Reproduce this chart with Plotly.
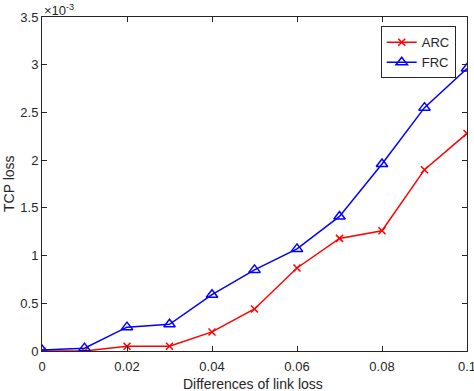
import plotly.graph_objects as go

x_vals = [0, 0.01, 0.02, 0.03, 0.04, 0.05, 0.06, 0.07, 0.08, 0.09, 0.1]
arc = [0.0, 0.0, 0.05, 0.05, 0.20, 0.44, 0.87, 1.18, 1.26, 1.90, 2.28]  # x1e-3
frc = [0.01, 0.03, 0.25, 0.28, 0.59, 0.85, 1.07, 1.41, 1.96, 2.55, 2.96]  # x1e-3
x_ticks = [0, 0.02, 0.04, 0.06, 0.08, 0.1]
x_ticktext = ["0", "0.02", "0.04", "0.06", "0.08", "0.1"]
y_ticks = [0, 0.5, 1, 1.5, 2, 2.5, 3, 3.5]
y_ticktext = ["0", "0.5", "1", "1.5", "2", "2.5", "3", "3.5"]

font = "Liberation Sans, Arial, Helvetica, sans-serif"
axc = "#262626"

fig = go.Figure()
fig.add_trace(go.Scatter(x=x_vals, y=arc, name="ARC", mode="lines+markers",
                         line=dict(color="#ff0000", width=1.5),
                         marker=dict(symbol="x-thin", size=7, color="#ff0000",
                                     line=dict(color="#ff0000", width=1.5))))
fig.add_trace(go.Scatter(x=x_vals, y=frc, name="FRC", mode="lines+markers",
                         line=dict(color="#0000ff", width=1.5),
                         marker=dict(symbol="triangle-up-open", size=10, color="#0000ff",
                                     line=dict(color="#0000ff", width=1.5))))

fig.update_layout(
    width=474, height=391,
    margin=dict(l=42, r=7, t=17, b=40, autoexpand=False),
    paper_bgcolor="white", plot_bgcolor="white",
    font=dict(family=font, size=13, color=axc),
    legend=dict(x=0.797, y=0.972, xanchor="left", yanchor="top",
                bordercolor="#262626", borderwidth=1, bgcolor="white",
                font=dict(size=13, color=axc), tracegroupgap=0,
                itemwidth=30),
    showlegend=True,
)
fig.update_xaxes(range=[0, 0.1], tickvals=x_ticks, ticktext=x_ticktext,
                 showgrid=False, zeroline=False, showline=True, linecolor=axc,
                 linewidth=1, mirror="ticks", ticks="inside", ticklen=5,
                 tickcolor=axc, tickfont=dict(size=13, color=axc), automargin=False,
                 ticklabeloverflow="allow", ticklabelstandoff=3)
fig.update_yaxes(range=[0, 3.5], tickvals=y_ticks, ticktext=y_ticktext,
                 showgrid=False, zeroline=False, showline=True, linecolor=axc,
                 linewidth=1, mirror="ticks", ticks="inside", ticklen=5,
                 tickcolor=axc, tickfont=dict(size=13, color=axc), automargin=False,
                 ticklabeloverflow="allow")
fig.add_annotation(xref="paper", yref="paper", x=0, y=1, xanchor="left", yanchor="bottom",
                   text="×10<sup>-3</sup>", showarrow=False, yshift=-3,
                   font=dict(size=13, color=axc, family=font))
fig.add_annotation(xref="paper", yref="paper", x=0.497, y=0, xanchor="center", yanchor="top",
                   text="Differences of link loss", showarrow=False, yshift=-23,
                   font=dict(size=14, color=axc, family=font))
fig.add_annotation(xref="paper", yref="paper", x=0, y=0.5, xanchor="center", yanchor="middle",
                   text="TCP loss", showarrow=False, xshift=-33, textangle=-90,
                   font=dict(size=14, color=axc, family=font))

fig.write_html("out.html", config={"displayModeBar": False},
               post_script="document.body.style.margin='0';document.body.style.overflow='hidden';")
